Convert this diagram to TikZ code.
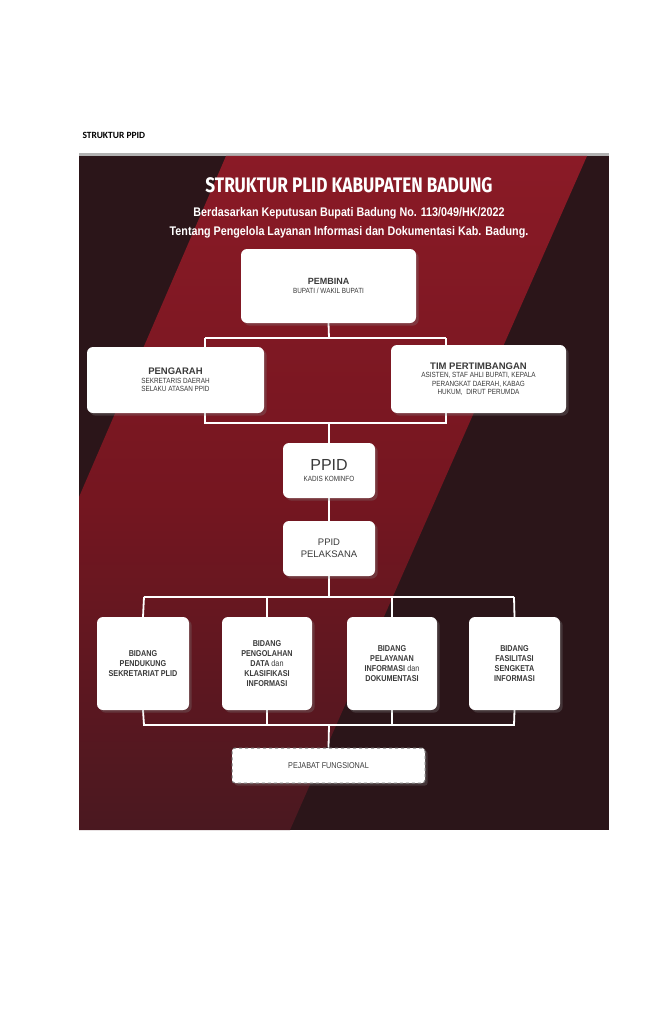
\documentclass[tikz,border=0pt]{standalone}
\usepackage{fontspec}
\usetikzlibrary{shadows}
\setmainfont{Liberation Sans}
\newfontfamily\titlef{Fira Sans}
\newfontfamily\hdrf{Carlito}
\pgfdeclarelayer{bg}\pgfdeclarelayer{lines}
\pgfsetlayers{bg,lines,main}
\definecolor{panel}{HTML}{2B1519}
\definecolor{band}{HTML}{8A1A26}
\definecolor{bandlow}{HTML}{4A1820}
\definecolor{txt}{HTML}{3A3A3A}
\begin{document}
\begin{tikzpicture}[x=1pt,y=-1pt,
  box/.style={fill=white,rounded corners=6pt,inner sep=1pt,align=center,text=txt,
    font=\fontsize{7.5}{8.5}\selectfont,drop shadow={opacity=0.3}},
  big/.style={box,font=\fontsize{8.5}{10}\selectfont\bfseries},
  conn/.style={draw=white,line width=1.8pt}]
\useasboundingbox (0,0) rectangle (652,1024);
\node[anchor=west,font=\hdrf\bfseries\fontsize{9.5}{11}\selectfont] (hdr) at (79,135) {STRUKTUR PPID};
\begin{pgfonlayer}{bg}
\fill[white] (0,0) rectangle (652,1024);
\fill[gray!60] (79,153) rectangle (609,157);
\fill[panel] (79,156) rectangle (609,830);
\shade[top color=band,bottom color=bandlow,middle color=band!85!black] (226,156) -- (587,156) -- (290,830) -- (79,830) -- (79,497) -- cycle;
\end{pgfonlayer}
\node[text=white,font=\titlef\bfseries\fontsize{21}{24}\selectfont] (title) at (349,185) {\scalebox{0.82}[1]{STRUKTUR PLID KABUPATEN BADUNG}};
\node[text=white,font=\bfseries\fontsize{12.5}{14}\selectfont] (sub1) at (349,213) {\scalebox{0.86}[1]{Berdasarkan Keputusan Bupati Badung No. 113/049/HK/2022}};
\node[text=white,font=\bfseries\fontsize{12.5}{14}\selectfont] (sub2) at (349,232) {\scalebox{0.86}[1]{Tentang Pengelola Layanan Informasi dan Dokumentasi Kab. Badung.}};

\node[box,minimum width=175pt,minimum height=74pt] (pembina) at (328.5,286) {{\bfseries\fontsize{9}{11}\selectfont PEMBINA}\\[1pt]\scalebox{0.85}[1]{BUPATI / WAKIL BUPATI}};
\node[box,minimum width=177pt,minimum height=66pt] (pengarah) at (175.5,380) {{\bfseries\fontsize{9.5}{11}\selectfont PENGARAH}\\\scalebox{0.85}[1]{SEKRETARIS DAERAH}\\\scalebox{0.85}[1]{SELAKU ATASAN PPID}};
\node[box,minimum width=175pt,minimum height=68pt] (tim) at (478.5,379) {{\bfseries\fontsize{9.5}{11}\selectfont TIM PERTIMBANGAN}\\\scalebox{0.85}[1]{ASISTEN, STAF AHLI BUPATI, KEPALA}\\\scalebox{0.85}[1]{PERANGKAT DAERAH, KABAG}\\\scalebox{0.85}[1]{HUKUM,\ \ DIRUT PERUMDA}};
\node[box,minimum width=92pt,minimum height=55pt] (ppid) at (329,470.5) {{\fontsize{16}{17}\selectfont PPID}\\[2pt]\scalebox{0.85}[1]{KADIS KOMINFO}};
\node[box,minimum width=92pt,minimum height=55pt,font=\fontsize{9.5}{11.5}\selectfont] (pel) at (329,548.5) {PPID\\PELAKSANA};
\node[big,minimum width=92pt,minimum height=93pt] (b1) at (143,663.5) {\scalebox{0.85}[1]{BIDANG}\\\scalebox{0.85}[1]{PENDUKUNG}\\\scalebox{0.85}[1]{SEKRETARIAT PLID}};
\node[big,minimum width=90pt,minimum height=93pt] (b2) at (267,663.5) {\scalebox{0.85}[1]{BIDANG}\\\scalebox{0.85}[1]{PENGOLAHAN}\\\scalebox{0.85}[1]{DATA \mdseries dan}\\\scalebox{0.85}[1]{KLASIFIKASI}\\\scalebox{0.85}[1]{INFORMASI}};
\node[big,minimum width=90pt,minimum height=93pt] (b3) at (392,663.5) {\scalebox{0.85}[1]{BIDANG}\\\scalebox{0.85}[1]{PELAYANAN}\\\scalebox{0.85}[1]{INFORMASI \mdseries dan}\\\scalebox{0.85}[1]{DOKUMENTASI}};
\node[big,minimum width=91pt,minimum height=93pt] (b4) at (514.5,663.5) {\scalebox{0.85}[1]{BIDANG}\\\scalebox{0.85}[1]{FASILITASI}\\\scalebox{0.85}[1]{SENGKETA}\\\scalebox{0.85}[1]{INFORMASI}};
\node[box,rounded corners=3pt,draw=gray,dashed,line width=1pt,minimum width=193pt,minimum height=35pt,font=\fontsize{8.5}{10}\selectfont] (pej) at (328.5,765.5) {\scalebox{0.85}[1]{PEJABAT FUNGSIONAL}};

\coordinate (t1) at (329,338); \coordinate (tl) at (205,338); \coordinate (tr) at (446,338);
\coordinate (u1) at (329,423); \coordinate (ul) at (205,423); \coordinate (ur) at (446,423);
\coordinate (p1) at (329,597); \coordinate (pl) at (144,597); \coordinate (pr) at (514,597);
\coordinate (q1) at (329,725); \coordinate (ql) at (144,725); \coordinate (qr) at (514,725);
\begin{pgfonlayer}{lines}
\draw[conn] (pembina.south) -- (t1);
\draw[conn] (tl) -- (tr);
\draw[conn] (tl) -- (ul) -- (ur) -- (tr);
\draw[conn] (u1) -- (ppid.north);
\draw[conn] (ppid.south) -- (pel.north);
\draw[conn] (pel.south) -- (p1);
\draw[conn] (pl) -- (pr);
\draw[conn] (pl) -- (b1.north);
\draw[conn] (pr) -- (b4.north);
\draw[conn] (b2.north|-p1) -- (b2.north);
\draw[conn] (b3.north|-p1) -- (b3.north);
\draw[conn] (b1.south) -- (ql) -- (qr) -- (b4.south);
\draw[conn] (b2.south) -- (b2.south|-q1);
\draw[conn] (b3.south) -- (b3.south|-q1);
\draw[conn] (q1) -- (pej.north);
\end{pgfonlayer}
\end{tikzpicture}
\end{document}
